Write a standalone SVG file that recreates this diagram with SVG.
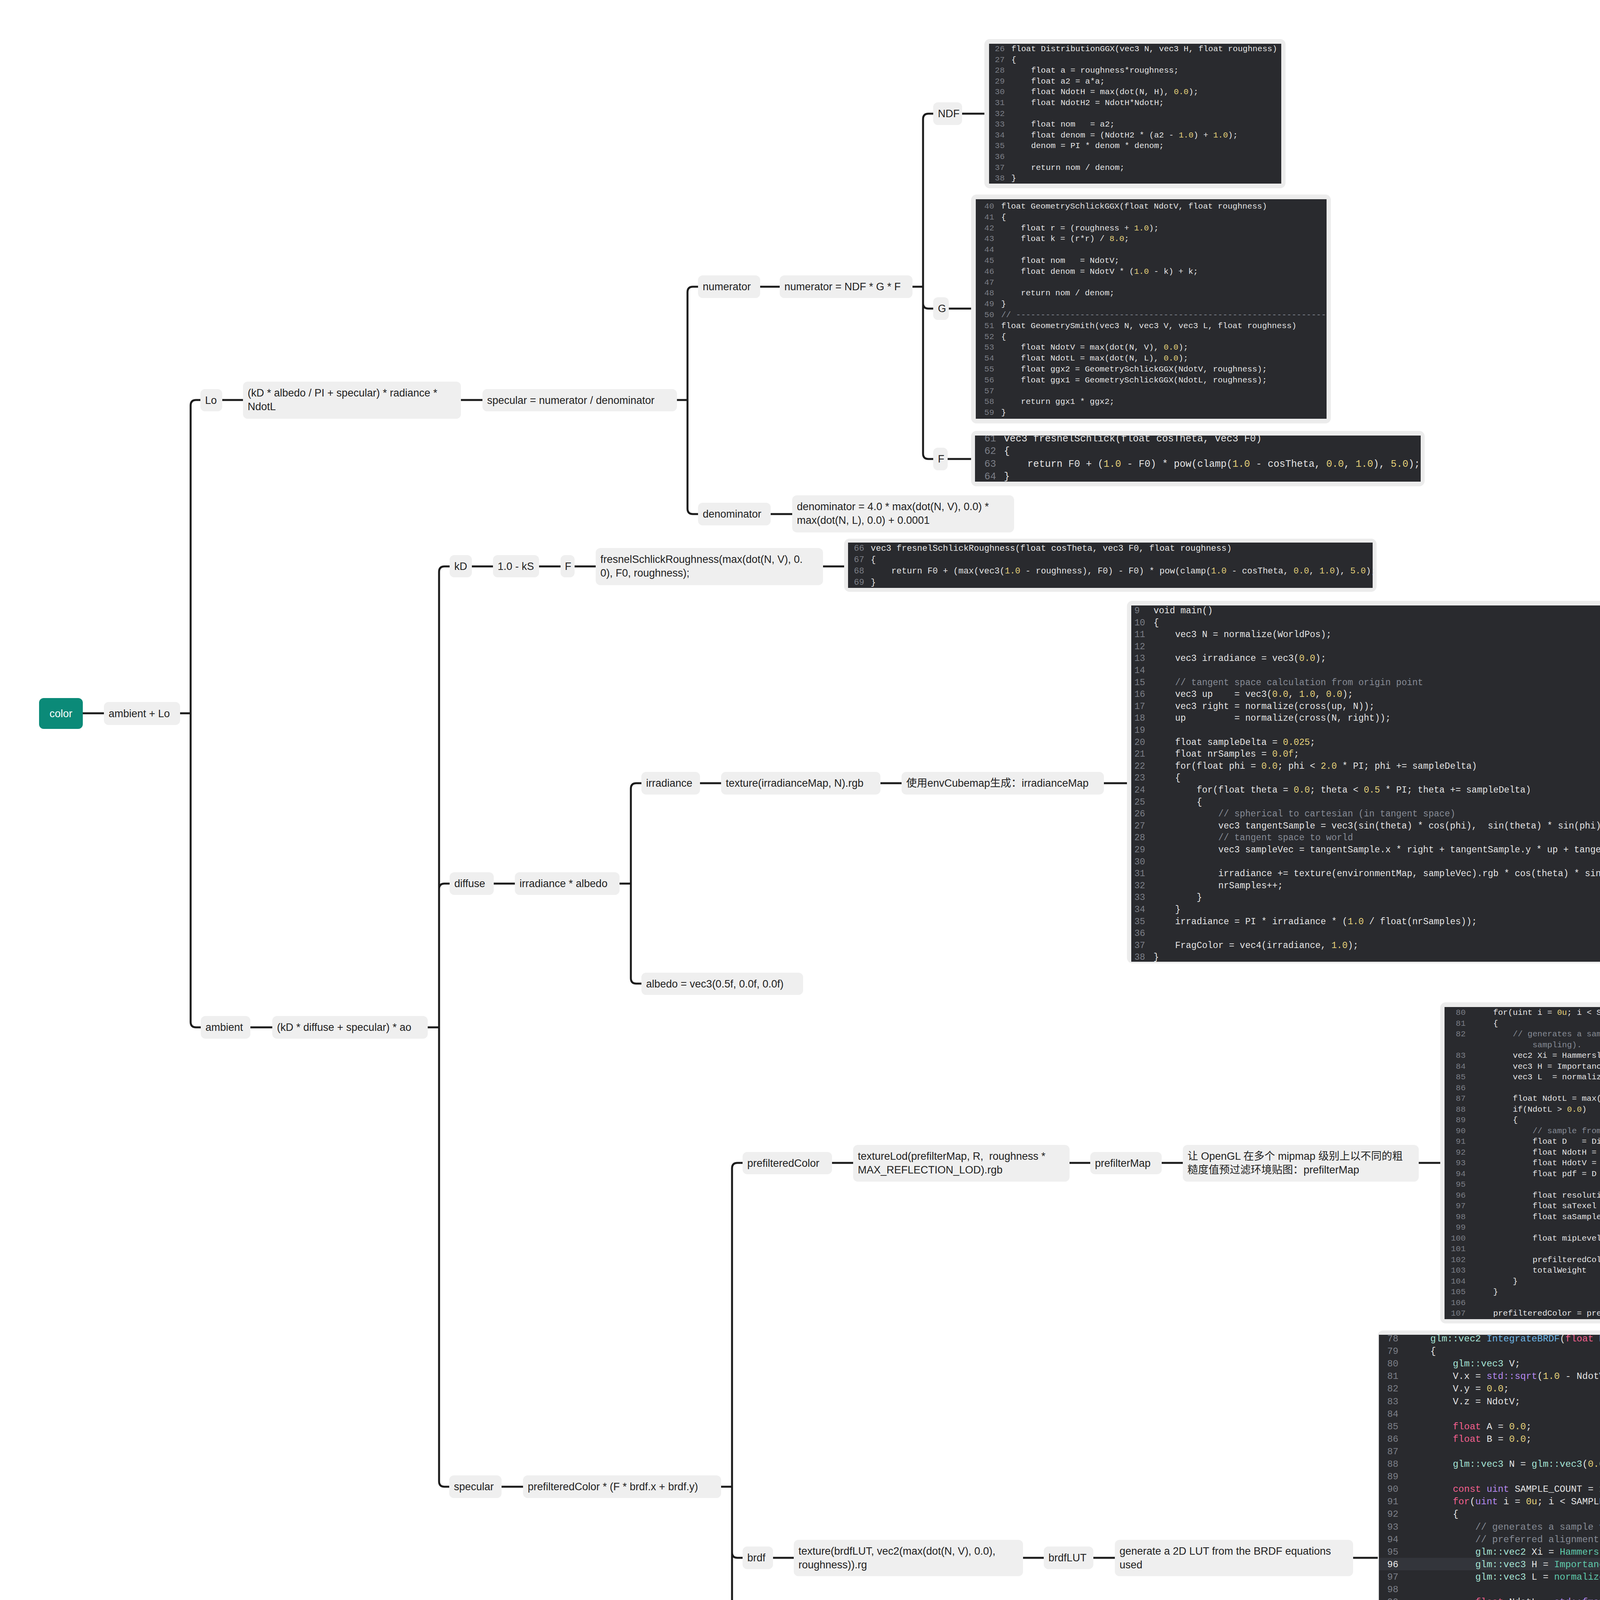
<svg xmlns="http://www.w3.org/2000/svg" width="5232" height="4784" viewBox="0 0 5232 4784">
<style>
.nd{fill:#efefef}
.tx{font-family:"Liberation Sans","Noto Sans CJK SC",sans-serif;font-size:27px;fill:#222}
.rt{fill:#0b8a78}
.ob{fill:#ececec}
.ib{fill:#292a2e}
.cd{font-family:"Liberation Mono","DejaVu Sans Mono",monospace;fill:#e4e4e4;white-space:pre}
.ln{fill:#7b7e86}
.y{fill:#e6d27a}
.g{fill:#868b95}
.p{fill:#f4608f}
.v{fill:#b689ee}
.t{fill:#a6e4d5}
.f{fill:#5fc9ab}
.b{fill:#6fb6e6}
.cn path{fill:none;stroke:#1b1b1b;stroke-width:5}
</style>
<defs>
<clipPath id="cF"><rect x="2496" y="1115" width="1141" height="118"/></clipPath>
<clipPath id="cB"><rect x="3530" y="3417" width="1114" height="1143"/></clipPath>
<clipPath id="cI"><rect x="2896" y="1550" width="1452" height="912"/></clipPath>
</defs>
<rect width="5232" height="4784" fill="#fff"/>
<g class="cn" id="connectors">
<path d="M212 1826H266"/>
<path d="M461 1826H488M488 1826V1038Q488 1024 502 1024H513M488 1826V2616Q488 2630 502 2630H514"/>
<path d="M569 1024H622M1180 1024H1235"/>
<path d="M1733 1024H1760M1760 1024V748Q1760 734 1774 734H1787M1760 1024V1302Q1760 1316 1774 1316H1787"/>
<path d="M1946 734H1996"/>
<path d="M2336 734H2363M2363 734V305Q2363 291 2377 291H2389M2363 734V776Q2363 790 2377 790H2389M2363 734V1161Q2363 1175 2377 1175H2389"/>
<path d="M2463 291H2520M2429 790H2486M2426 1175H2486M1973 1316H2028"/>
<path d="M641 2630H697M1095 2630H1124M1124 2630V1464Q1124 1450 1138 1450H1151M1124 2630V2276Q1124 2262 1138 2262H1151M1124 2630V3792Q1124 3806 1138 3806H1150"/>
<path d="M1208 1450H1262M1380 1450H1435M1471 1450H1525M2107 1450H2161"/>
<path d="M1264 2262H1318M1586 2262H1615M1615 2262V2019Q1615 2005 1629 2005H1642M1615 2262V2504Q1615 2518 1629 2518H1642"/>
<path d="M1792 2005H1846M2254 2005H2308M2826 2005H2885"/>
<path d="M1284 3806H1339M1846 3806H1874M1874 3806V2991Q1874 2977 1888 2977H1901M1874 3806V3974Q1874 3988 1888 3988H1901M1874 3806V4621Q1874 4635 1888 4635H1901"/>
<path d="M2130 2977H2184M2738 2977H2791M2974 2977H3028M3632 2977H3687"/>
<path d="M1979 3988H2032M2619 3988H2672M2799 3988H2854M3464 3988H3527M1939 4635H1992"/>
</g>
<g id="n-color"><rect class="rt" x="100" y="1787" width="112" height="79" rx="12"/><text class="tx" x="156" y="1836" text-anchor="middle" style="fill:#fff">color</text></g>
<g id="n-ambLo"><rect class="nd" x="266" y="1797" width="195" height="59" rx="12"/><text class="tx" x="278" y="1836">ambient + Lo</text></g>
<g id="n-Lo"><rect class="nd" x="513" y="996" width="56" height="57" rx="12"/><text class="tx" x="525" y="1034">Lo</text></g>
<g id="n-Lo1"><rect class="nd" x="622" y="977" width="558" height="95" rx="12"/><text class="tx" x="634" y="1015">(kD * albedo / PI + specular) * radiance *</text><text class="tx" x="634" y="1050">NdotL</text></g>
<g id="n-specnd"><rect class="nd" x="1235" y="996" width="498" height="57" rx="12"/><text class="tx" x="1247" y="1034">specular = numerator / denominator</text></g>
<g id="n-num"><rect class="nd" x="1787" y="705" width="159" height="58" rx="12"/><text class="tx" x="1799" y="743">numerator</text></g>
<g id="n-numeq"><rect class="nd" x="1996" y="705" width="340" height="58" rx="12"/><text class="tx" x="2008" y="743">numerator = NDF * G * F</text></g>
<g id="n-NDF"><rect class="nd" x="2389" y="262" width="74" height="58" rx="12"/><text class="tx" x="2401" y="300">NDF</text></g>
<g id="n-G"><rect class="nd" x="2389" y="761" width="40" height="58" rx="12"/><text class="tx" x="2401" y="799">G</text></g>
<g id="n-F1"><rect class="nd" x="2389" y="1146" width="37" height="58" rx="12"/><text class="tx" x="2401" y="1184">F</text></g>
<g id="n-den"><rect class="nd" x="1787" y="1287" width="186" height="58" rx="12"/><text class="tx" x="1799" y="1325">denominator</text></g>
<g id="n-deneq"><rect class="nd" x="2028" y="1268" width="568" height="95" rx="12"/><text class="tx" x="2040" y="1306">denominator = 4.0 * max(dot(N, V), 0.0) *</text><text class="tx" x="2040" y="1341">max(dot(N, L), 0.0) + 0.0001</text></g>
<g id="n-amb"><rect class="nd" x="514" y="2601" width="127" height="58" rx="12"/><text class="tx" x="526" y="2639">ambient</text></g>
<g id="n-ambeq"><rect class="nd" x="697" y="2601" width="398" height="58" rx="12"/><text class="tx" x="709" y="2639">(kD * diffuse + specular) * ao</text></g>
<g id="n-kD"><rect class="nd" x="1151" y="1421" width="57" height="57" rx="12"/><text class="tx" x="1163" y="1459">kD</text></g>
<g id="n-kS"><rect class="nd" x="1262" y="1421" width="118" height="57" rx="12"/><text class="tx" x="1274" y="1459">1.0 - kS</text></g>
<g id="n-F2"><rect class="nd" x="1435" y="1421" width="36" height="57" rx="12"/><text class="tx" x="1446" y="1459">F</text></g>
<g id="n-fr1"><rect class="nd" x="1525" y="1403" width="582" height="95" rx="12"/><text class="tx" x="1537" y="1441">fresnelSchlickRoughness(max(dot(N, V), 0.</text><text class="tx" x="1537" y="1476">0), F0, roughness);</text></g>
<g id="n-diff"><rect class="nd" x="1151" y="2233" width="113" height="58" rx="12"/><text class="tx" x="1163" y="2271">diffuse</text></g>
<g id="n-irral"><rect class="nd" x="1318" y="2233" width="268" height="58" rx="12"/><text class="tx" x="1330" y="2271">irradiance * albedo</text></g>
<g id="n-irr"><rect class="nd" x="1642" y="1976" width="150" height="58" rx="12"/><text class="tx" x="1654" y="2014">irradiance</text></g>
<g id="n-irrtex"><rect class="nd" x="1846" y="1976" width="408" height="58" rx="12"/><text class="tx" x="1858" y="2014">texture(irradianceMap, N).rgb</text></g>
<g id="n-irrgen"><rect class="nd" x="2308" y="1976" width="518" height="58" rx="12"/><text class="tx" x="2320" y="2014">使用envCubemap生成：irradianceMap</text></g>
<g id="n-alb"><rect class="nd" x="1642" y="2490" width="414" height="57" rx="12"/><text class="tx" x="1654" y="2528">albedo = vec3(0.5f, 0.0f, 0.0f)</text></g>
<g id="n-spec2"><rect class="nd" x="1150" y="3777" width="134" height="58" rx="12"/><text class="tx" x="1162" y="3815">specular</text></g>
<g id="n-speceq"><rect class="nd" x="1339" y="3777" width="507" height="58" rx="12"/><text class="tx" x="1351" y="3815">prefilteredColor * (F * brdf.x + brdf.y)</text></g>
<g id="n-pc"><rect class="nd" x="1901" y="2949" width="229" height="57" rx="12"/><text class="tx" x="1913" y="2987">prefilteredColor</text></g>
<g id="n-texlod"><rect class="nd" x="2184" y="2931" width="554" height="94" rx="12"/><text class="tx" x="2196" y="2969" style="white-space:pre">textureLod(prefilterMap, R,  roughness *</text><text class="tx" x="2196" y="3004">MAX_REFLECTION_LOD).rgb</text></g>
<g id="n-pfm"><rect class="nd" x="2791" y="2949" width="183" height="57" rx="12"/><text class="tx" x="2803" y="2987">prefilterMap</text></g>
<g id="n-pfmgen"><rect class="nd" x="3028" y="2931" width="604" height="94" rx="12"/><text class="tx" x="3040" y="2969">让 OpenGL 在多个 mipmap 级别上以不同的粗</text><text class="tx" x="3040" y="3004">糙度值预过滤环境贴图：prefilterMap</text></g>
<g id="n-brdf"><rect class="nd" x="1901" y="3959" width="78" height="58" rx="12"/><text class="tx" x="1913" y="3997">brdf</text></g>
<g id="n-brdftex"><rect class="nd" x="2032" y="3942" width="587" height="93" rx="12"/><text class="tx" x="2044" y="3980">texture(brdfLUT, vec2(max(dot(N, V), 0.0),</text><text class="tx" x="2044" y="4015">roughness)).rg</text></g>
<g id="n-lut"><rect class="nd" x="2672" y="3959" width="127" height="58" rx="12"/><text class="tx" x="2684" y="3997">brdfLUT</text></g>
<g id="n-lutgen"><rect class="nd" x="2854" y="3942" width="610" height="93" rx="12"/><text class="tx" x="2866" y="3980">generate a 2D LUT from the BRDF equations</text><text class="tx" x="2866" y="4015">used</text></g>
<g id="n-F3"><rect class="nd" x="1901" y="4607" width="38" height="58" rx="12"/><text class="tx" x="1912" y="4645">F</text></g>
<g id="n-fr2"><rect class="nd" x="1992" y="4590" width="582" height="93" rx="12"/><text class="tx" x="2004" y="4628">fresnelSchlickRoughness(max(dot(N, V), 0.</text><text class="tx" x="2004" y="4663">0), F0, roughness)</text></g>

<g id="code-ndf" font-size="21">
<rect class="ob" x="2520" y="100" width="771" height="382" rx="14"/><rect class="ib" x="2532" y="112" width="748" height="358"/>
<text class="cd ln" text-anchor="end"><tspan x="2572" y="131">26</tspan><tspan x="2572" y="158.6">27</tspan><tspan x="2572" y="186.2">28</tspan><tspan x="2572" y="213.8">29</tspan><tspan x="2572" y="241.4">30</tspan><tspan x="2572" y="269">31</tspan><tspan x="2572" y="296.6">32</tspan><tspan x="2572" y="324.2">33</tspan><tspan x="2572" y="351.8">34</tspan><tspan x="2572" y="379.4">35</tspan><tspan x="2572" y="407">36</tspan><tspan x="2572" y="434.6">37</tspan><tspan x="2572" y="462.2">38</tspan></text>
<text class="cd" x="2589" y="131">float DistributionGGX(vec3 N, vec3 H, float roughness)</text>
<text class="cd" x="2589" y="158.6">{</text>
<text class="cd" x="2589" y="186.2">    float a = roughness*roughness;</text>
<text class="cd" x="2589" y="213.8">    float a2 = a*a;</text>
<text class="cd" x="2589" y="241.4">    float NdotH = max(dot(N, H), <tspan class="y">0.0</tspan>);</text>
<text class="cd" x="2589" y="269">    float NdotH2 = NdotH*NdotH;</text>
<text class="cd" x="2589" y="324.2">    float nom   = a2;</text>
<text class="cd" x="2589" y="351.8">    float denom = (NdotH2 * (a2 - <tspan class="y">1.0</tspan>) + <tspan class="y">1.0</tspan>);</text>
<text class="cd" x="2589" y="379.4">    denom = PI * denom * denom;</text>
<text class="cd" x="2589" y="434.6">    return nom / denom;</text>
<text class="cd" x="2589" y="462.2">}</text>
</g>

<g id="code-g" font-size="21">
<rect class="ob" x="2486" y="498" width="921" height="586" rx="14"/><rect class="ib" x="2498" y="510" width="898" height="562"/>
<text class="cd ln" text-anchor="end"><tspan x="2545" y="534">40</tspan><tspan x="2545" y="561.8">41</tspan><tspan x="2545" y="589.6">42</tspan><tspan x="2545" y="617.4">43</tspan><tspan x="2545" y="645.2">44</tspan><tspan x="2545" y="673">45</tspan><tspan x="2545" y="700.8">46</tspan><tspan x="2545" y="728.6">47</tspan><tspan x="2545" y="756.4">48</tspan><tspan x="2545" y="784.2">49</tspan><tspan x="2545" y="812">50</tspan><tspan x="2545" y="839.8">51</tspan><tspan x="2545" y="867.6">52</tspan><tspan x="2545" y="895.4">53</tspan><tspan x="2545" y="923.2">54</tspan><tspan x="2545" y="951">55</tspan><tspan x="2545" y="978.8">56</tspan><tspan x="2545" y="1006.6">57</tspan><tspan x="2545" y="1034.4">58</tspan><tspan x="2545" y="1062.2">59</tspan></text>
<text class="cd" x="2563" y="534">float GeometrySchlickGGX(float NdotV, float roughness)</text>
<text class="cd" x="2563" y="561.8">{</text>
<text class="cd" x="2563" y="589.6">    float r = (roughness + <tspan class="y">1.0</tspan>);</text>
<text class="cd" x="2563" y="617.4">    float k = (r*r) / <tspan class="y">8.0</tspan>;</text>
<text class="cd" x="2563" y="673">    float nom   = NdotV;</text>
<text class="cd" x="2563" y="700.8">    float denom = NdotV * (<tspan class="y">1.0</tspan> - k) + k;</text>
<text class="cd" x="2563" y="756.4">    return nom / denom;</text>
<text class="cd" x="2563" y="784.2">}</text>
<text class="cd g" x="2563" y="812">// ---------------------------------------------------------------</text>
<text class="cd" x="2563" y="839.8">float GeometrySmith(vec3 N, vec3 V, vec3 L, float roughness)</text>
<text class="cd" x="2563" y="867.6">{</text>
<text class="cd" x="2563" y="895.4">    float NdotV = max(dot(N, V), <tspan class="y">0.0</tspan>);</text>
<text class="cd" x="2563" y="923.2">    float NdotL = max(dot(N, L), <tspan class="y">0.0</tspan>);</text>
<text class="cd" x="2563" y="951">    float ggx2 = GeometrySchlickGGX(NdotV, roughness);</text>
<text class="cd" x="2563" y="978.8">    float ggx1 = GeometrySchlickGGX(NdotL, roughness);</text>
<text class="cd" x="2563" y="1034.4">    return ggx1 * ggx2;</text>
<text class="cd" x="2563" y="1062.2">}</text>
</g>

<g id="code-f" font-size="25">
<rect class="ob" x="2486" y="1103" width="1161" height="142" rx="14"/><rect class="ib" x="2496" y="1115" width="1141" height="118"/>
<g clip-path="url(#cF)">
<text class="cd ln"><tspan x="2520" y="1130">61</tspan><tspan x="2520" y="1162">62</tspan><tspan x="2520" y="1195">63</tspan><tspan x="2520" y="1227">64</tspan></text>
<text class="cd" x="2570" y="1130">vec3 fresnelSchlick(float cosTheta, vec3 F0)</text>
<text class="cd" x="2570" y="1162">{</text>
<text class="cd" x="2570" y="1195">    return F0 + (<tspan class="y">1.0</tspan> - F0) * pow(clamp(<tspan class="y">1.0</tspan> - cosTheta, <tspan class="y">0.0</tspan>, <tspan class="y">1.0</tspan>), <tspan class="y">5.0</tspan>);</text>
<text class="cd" x="2570" y="1227">}</text>
</g>
</g>

<g id="code-fr" font-size="22">
<rect class="ob" x="2161" y="1379" width="1363" height="136" rx="14"/><rect class="ib" x="2171" y="1389" width="1343" height="116"/>
<text class="cd ln"><tspan x="2186" y="1410">66</tspan><tspan x="2186" y="1439">67</tspan><tspan x="2186" y="1468">68</tspan><tspan x="2186" y="1497">69</tspan></text>
<text class="cd" x="2229" y="1410">vec3 fresnelSchlickRoughness(float cosTheta, vec3 F0, float roughness)</text>
<text class="cd" x="2229" y="1439">{</text>
<text class="cd" x="2229" y="1468">    return F0 + (max(vec3(<tspan class="y">1.0</tspan> - roughness), F0) - F0) * pow(clamp(<tspan class="y">1.0</tspan> - cosTheta, <tspan class="y">0.0</tspan>, <tspan class="y">1.0</tspan>), <tspan class="y">5.0</tspan>);</text>
<text class="cd" x="2229" y="1497">}</text>
</g>

<g id="code-irr" font-size="23">
<rect class="ob" x="2885" y="1538" width="1475" height="928" rx="14"/><rect class="ib" x="2896" y="1550" width="1452" height="912"/>
<g clip-path="url(#cI)">
<text class="cd ln"><tspan x="2904" y="1570">9</tspan><tspan x="2904" y="1600.6">10</tspan><tspan x="2904" y="1631.2">11</tspan><tspan x="2904" y="1661.8">12</tspan><tspan x="2904" y="1692.4">13</tspan><tspan x="2904" y="1723">14</tspan><tspan x="2904" y="1753.6">15</tspan><tspan x="2904" y="1784.2">16</tspan><tspan x="2904" y="1814.8">17</tspan><tspan x="2904" y="1845.4">18</tspan><tspan x="2904" y="1876">19</tspan><tspan x="2904" y="1906.6">20</tspan><tspan x="2904" y="1937.2">21</tspan><tspan x="2904" y="1967.8">22</tspan><tspan x="2904" y="1998.4">23</tspan><tspan x="2904" y="2029">24</tspan><tspan x="2904" y="2059.6">25</tspan><tspan x="2904" y="2090.2">26</tspan><tspan x="2904" y="2120.8">27</tspan><tspan x="2904" y="2151.4">28</tspan><tspan x="2904" y="2182">29</tspan><tspan x="2904" y="2212.6">30</tspan><tspan x="2904" y="2243.2">31</tspan><tspan x="2904" y="2273.8">32</tspan><tspan x="2904" y="2304.4">33</tspan><tspan x="2904" y="2335">34</tspan><tspan x="2904" y="2365.6">35</tspan><tspan x="2904" y="2396.2">36</tspan><tspan x="2904" y="2426.8">37</tspan><tspan x="2904" y="2457.4">38</tspan></text>
<text class="cd" x="2953" y="1570">void main()</text>
<text class="cd" x="2953" y="1600.6">{</text>
<text class="cd" x="2953" y="1631.2">    vec3 N = normalize(WorldPos);</text>
<text class="cd" x="2953" y="1692.4">    vec3 irradiance = vec3(<tspan class="y">0.0</tspan>);</text>
<text class="cd g" x="2953" y="1753.6">    // tangent space calculation from origin point</text>
<text class="cd" x="2953" y="1784.2">    vec3 up    = vec3(<tspan class="y">0.0</tspan>, <tspan class="y">1.0</tspan>, <tspan class="y">0.0</tspan>);</text>
<text class="cd" x="2953" y="1814.8">    vec3 right = normalize(cross(up, N));</text>
<text class="cd" x="2953" y="1845.4">    up         = normalize(cross(N, right));</text>
<text class="cd" x="2953" y="1906.6">    float sampleDelta = <tspan class="y">0.025</tspan>;</text>
<text class="cd" x="2953" y="1937.2">    float nrSamples = <tspan class="y">0.0f</tspan>;</text>
<text class="cd" x="2953" y="1967.8">    for(float phi = <tspan class="y">0.0</tspan>; phi &lt; <tspan class="y">2.0</tspan> * PI; phi += sampleDelta)</text>
<text class="cd" x="2953" y="1998.4">    {</text>
<text class="cd" x="2953" y="2029">        for(float theta = <tspan class="y">0.0</tspan>; theta &lt; <tspan class="y">0.5</tspan> * PI; theta += sampleDelta)</text>
<text class="cd" x="2953" y="2059.6">        {</text>
<text class="cd g" x="2953" y="2090.2">            // spherical to cartesian (in tangent space)</text>
<text class="cd" x="2953" y="2120.8">            vec3 tangentSample = vec3(sin(theta) * cos(phi),  sin(theta) * sin(phi), cos(theta));</text>
<text class="cd g" x="2953" y="2151.4">            // tangent space to world</text>
<text class="cd" x="2953" y="2182">            vec3 sampleVec = tangentSample.x * right + tangentSample.y * up + tangentSample.z * N;</text>
<text class="cd" x="2953" y="2243.2">            irradiance += texture(environmentMap, sampleVec).rgb * cos(theta) * sin(theta);</text>
<text class="cd" x="2953" y="2273.8">            nrSamples++;</text>
<text class="cd" x="2953" y="2304.4">        }</text>
<text class="cd" x="2953" y="2335">    }</text>
<text class="cd" x="2953" y="2365.6">    irradiance = PI * irradiance * (<tspan class="y">1.0</tspan> / float(nrSamples));</text>
<text class="cd" x="2953" y="2426.8">    FragColor = vec4(irradiance, <tspan class="y">1.0</tspan>);</text>
<text class="cd" x="2953" y="2457.4">}</text>
</g>
</g>

<g id="code-pf" font-size="21">
<rect class="ob" x="3687" y="2566" width="1444" height="822" rx="14"/><rect class="ib" x="3698" y="2578" width="1421" height="799"/>
<text class="cd ln" text-anchor="end"><tspan x="3752" y="2598">80</tspan><tspan x="3752" y="2625.5">81</tspan><tspan x="3752" y="2653">82</tspan><tspan x="3752" y="2708">83</tspan><tspan x="3752" y="2735.5">84</tspan><tspan x="3752" y="2763">85</tspan><tspan x="3752" y="2790.5">86</tspan><tspan x="3752" y="2818">87</tspan><tspan x="3752" y="2845.5">88</tspan><tspan x="3752" y="2873">89</tspan><tspan x="3752" y="2900.5">90</tspan><tspan x="3752" y="2928">91</tspan><tspan x="3752" y="2955.5">92</tspan><tspan x="3752" y="2983">93</tspan><tspan x="3752" y="3010.5">94</tspan><tspan x="3752" y="3038">95</tspan><tspan x="3752" y="3065.5">96</tspan><tspan x="3752" y="3093">97</tspan><tspan x="3752" y="3120.5">98</tspan><tspan x="3752" y="3148">99</tspan><tspan x="3752" y="3175.5">100</tspan><tspan x="3752" y="3203">101</tspan><tspan x="3752" y="3230.5">102</tspan><tspan x="3752" y="3258">103</tspan><tspan x="3752" y="3285.5">104</tspan><tspan x="3752" y="3313">105</tspan><tspan x="3752" y="3340.5">106</tspan><tspan x="3752" y="3368">107</tspan></text>
<text class="cd" x="3772" y="2598">    for(uint i = <tspan class="y">0u</tspan>; i &lt; SAMPLE_COUNT; ++i)</text>
<text class="cd" x="3772" y="2625.5">    {</text>
<text class="cd g" x="3772" y="2653">        // generates a sample vector that's biased towards the preferred alignment direction (importance</text>
<text class="cd g" x="3772" y="2680.5">            sampling).</text>
<text class="cd" x="3772" y="2708">        vec2 Xi = Hammersley(i, SAMPLE_COUNT);</text>
<text class="cd" x="3772" y="2735.5">        vec3 H = ImportanceSampleGGX(Xi, N, roughness);</text>
<text class="cd" x="3772" y="2763">        vec3 L  = normalize(<tspan class="y">2.0</tspan> * dot(V, H) * H - V);</text>
<text class="cd" x="3772" y="2818">        float NdotL = max(dot(N, L), <tspan class="y">0.0</tspan>);</text>
<text class="cd" x="3772" y="2845.5">        if(NdotL &gt; <tspan class="y">0.0</tspan>)</text>
<text class="cd" x="3772" y="2873">        {</text>
<text class="cd g" x="3772" y="2900.5">            // sample from the environment's mip level based on roughness/pdf</text>
<text class="cd" x="3772" y="2928">            float D   = DistributionGGX(N, H, roughness);</text>
<text class="cd" x="3772" y="2955.5">            float NdotH = max(dot(N, H), <tspan class="y">0.0</tspan>);</text>
<text class="cd" x="3772" y="2983">            float HdotV = max(dot(H, V), <tspan class="y">0.0</tspan>);</text>
<text class="cd" x="3772" y="3010.5">            float pdf = D * NdotH / (<tspan class="y">4.0</tspan> * HdotV) + <tspan class="y">0.0001</tspan>;</text>
<text class="cd" x="3772" y="3065.5">            float resolution = <tspan class="y">512.0</tspan>; <tspan class="g">// resolution of source cubemap (per face)</tspan></text>
<text class="cd" x="3772" y="3093">            float saTexel  = <tspan class="y">4.0</tspan> * PI / (<tspan class="y">6.0</tspan> * resolution * resolution);</text>
<text class="cd" x="3772" y="3120.5">            float saSample = <tspan class="y">1.0</tspan> / (float(SAMPLE_COUNT) * pdf + <tspan class="y">0.0001</tspan>);</text>
<text class="cd" x="3772" y="3175.5">            float mipLevel = roughness == <tspan class="y">0.0</tspan> ? <tspan class="y">0.0</tspan> : <tspan class="y">0.5</tspan> * log2(saSample / saTexel);</text>
<text class="cd" x="3772" y="3230.5">            prefilteredColor += textureLod(environmentMap, L, mipLevel).rgb * NdotL;</text>
<text class="cd" x="3772" y="3258">            totalWeight      += NdotL;</text>
<text class="cd" x="3772" y="3285.5">        }</text>
<text class="cd" x="3772" y="3313">    }</text>
<text class="cd" x="3772" y="3368">    prefilteredColor = prefilteredColor / totalWeight;</text>
</g>

<g id="code-brdf" font-size="24">
<rect class="ob" x="3527" y="3406" width="1129" height="1167" rx="14"/><rect class="ib" x="3530" y="3417" width="1114" height="1143"/>
<g clip-path="url(#cB)">
<rect x="3530" y="3988" width="1114" height="32" fill="#33353b"/>
<text class="cd ln" text-anchor="end"><tspan x="3580" y="3434">78</tspan><tspan x="3580" y="3466.1">79</tspan><tspan x="3580" y="3498.2">80</tspan><tspan x="3580" y="3530.3">81</tspan><tspan x="3580" y="3562.4">82</tspan><tspan x="3580" y="3594.5">83</tspan><tspan x="3580" y="3626.6">84</tspan><tspan x="3580" y="3658.7">85</tspan><tspan x="3580" y="3690.8">86</tspan><tspan x="3580" y="3722.9">87</tspan><tspan x="3580" y="3755">88</tspan><tspan x="3580" y="3787.1">89</tspan><tspan x="3580" y="3819.2">90</tspan><tspan x="3580" y="3851.3">91</tspan><tspan x="3580" y="3883.4">92</tspan><tspan x="3580" y="3915.5">93</tspan><tspan x="3580" y="3947.6">94</tspan><tspan x="3580" y="3979.7">95</tspan><tspan x="3580" y="4011.8" style="fill:#e8e8e8">96</tspan><tspan x="3580" y="4043.9">97</tspan><tspan x="3580" y="4076">98</tspan><tspan x="3580" y="4108.1">99</tspan><tspan x="3580" y="4140.2">100</tspan><tspan x="3580" y="4172.3">101</tspan><tspan x="3580" y="4204.4">102</tspan><tspan x="3580" y="4236.5">103</tspan><tspan x="3580" y="4268.6">104</tspan><tspan x="3580" y="4300.7">105</tspan><tspan x="3580" y="4332.8">106</tspan><tspan x="3580" y="4364.9">107</tspan><tspan x="3580" y="4397">108</tspan><tspan x="3580" y="4429.1">109</tspan><tspan x="3580" y="4461.2">110</tspan><tspan x="3580" y="4493.3">111</tspan><tspan x="3580" y="4525.4">112</tspan><tspan x="3580" y="4557.5">113</tspan></text>
<text class="cd" x="3604" y="3434">    <tspan class="t">glm::vec2</tspan> <tspan class="b">IntegrateBRDF</tspan>(<tspan class="p">float</tspan> NdotV, <tspan class="p">float</tspan> roughness)</text>
<text class="cd" x="3604" y="3466.1">    {</text>
<text class="cd" x="3604" y="3498.2">        <tspan class="t">glm::vec3</tspan> V;</text>
<text class="cd" x="3604" y="3530.3">        V.x = <tspan class="v">std::sqrt</tspan>(<tspan class="y">1.0</tspan> - NdotV*NdotV);</text>
<text class="cd" x="3604" y="3562.4">        V.y = <tspan class="y">0.0</tspan>;</text>
<text class="cd" x="3604" y="3594.5">        V.z = NdotV;</text>
<text class="cd" x="3604" y="3658.7">        <tspan class="p">float</tspan> A = <tspan class="y">0.0</tspan>;</text>
<text class="cd" x="3604" y="3690.8">        <tspan class="p">float</tspan> B = <tspan class="y">0.0</tspan>;</text>
<text class="cd" x="3604" y="3755">        <tspan class="t">glm::vec3</tspan> N = <tspan class="t">glm::vec3</tspan>(<tspan class="y">0.0</tspan>, <tspan class="y">0.0</tspan>, <tspan class="y">1.0</tspan>);</text>
<text class="cd" x="3604" y="3819.2">        <tspan class="p">const</tspan> <tspan class="v">uint</tspan> SAMPLE_COUNT = <tspan class="y">1024u</tspan>;</text>
<text class="cd" x="3604" y="3851.3">        <tspan class="p">for</tspan>(<tspan class="v">uint</tspan> i = <tspan class="y">0u</tspan>; i &lt; SAMPLE_COUNT; ++i)</text>
<text class="cd" x="3604" y="3883.4">        {</text>
<text class="cd g" x="3604" y="3915.5">            // generates a sample vector that's biased towards the</text>
<text class="cd g" x="3604" y="3947.6">            // preferred alignment direction (importance sampling).</text>
<text class="cd" x="3604" y="3979.7">            <tspan class="t">glm::vec2</tspan> Xi = <tspan class="f">Hammersley</tspan>(i, SAMPLE_COUNT);</text>
<text class="cd" x="3604" y="4011.8">            <tspan class="t">glm::vec3</tspan> H = <tspan class="f">ImportanceSampleGGX</tspan>(Xi, N, roughness);|</text>
<text class="cd" x="3604" y="4043.9">            <tspan class="t">glm::vec3</tspan> L = <tspan class="f">normalize</tspan>(<tspan class="y">2.0f</tspan> * <tspan class="t">glm::</tspan><tspan class="f">dot</tspan>(V, H) * H - V);</text>
<text class="cd" x="3604" y="4108.1">            <tspan class="p">float</tspan> NdotL = <tspan class="v">std::fmax</tspan>(L.z, <tspan class="y">0.0</tspan>);</text>
<text class="cd" x="3604" y="4140.2">            <tspan class="p">float</tspan> NdotH = <tspan class="v">std::fmax</tspan>(H.z, <tspan class="y">0.0</tspan>);</text>
<text class="cd" x="3604" y="4172.3">            <tspan class="p">float</tspan> VdotH = <tspan class="v">std::fmax</tspan>(<tspan class="t">glm::</tspan><tspan class="f">dot</tspan>(V, H), <tspan class="y">0.0</tspan>);</text>
<text class="cd" x="3604" y="4236.5">            <tspan class="p">if</tspan>(NdotL &gt; <tspan class="y">0.0</tspan>)</text>
<text class="cd" x="3604" y="4268.6">            {</text>
<text class="cd" x="3604" y="4300.7">                <tspan class="p">float</tspan> G = <tspan class="f">GeometrySmith</tspan>(N, V, L, roughness);</text>
<text class="cd" x="3604" y="4332.8">                <tspan class="p">float</tspan> G_Vis = (G * VdotH) / (NdotH * NdotV);</text>
<text class="cd" x="3604" y="4364.9">                <tspan class="p">float</tspan> Fc = <tspan class="v">pow</tspan>(<tspan class="y">1.0</tspan> - VdotH, <tspan class="y">5.0</tspan>);</text>
<text class="cd" x="3604" y="4429.1">                A += (<tspan class="y">1.0</tspan> - Fc) * G_Vis;</text>
<text class="cd" x="3604" y="4461.2">                B += Fc * G_Vis;</text>
<text class="cd" x="3604" y="4493.3">            }</text>
<text class="cd" x="3604" y="4525.4">        }</text>
<text class="cd" x="3604" y="4557.5">        A /= <tspan class="p">float</tspan>(SAMPLE_COUNT);</text>
</g>
</g>
<text x="5217" y="4776" text-anchor="end" font-family="Liberation Sans, sans-serif" font-size="20" fill="#a8a8a8">CSDN @GeekBuilding</text>
</svg>
